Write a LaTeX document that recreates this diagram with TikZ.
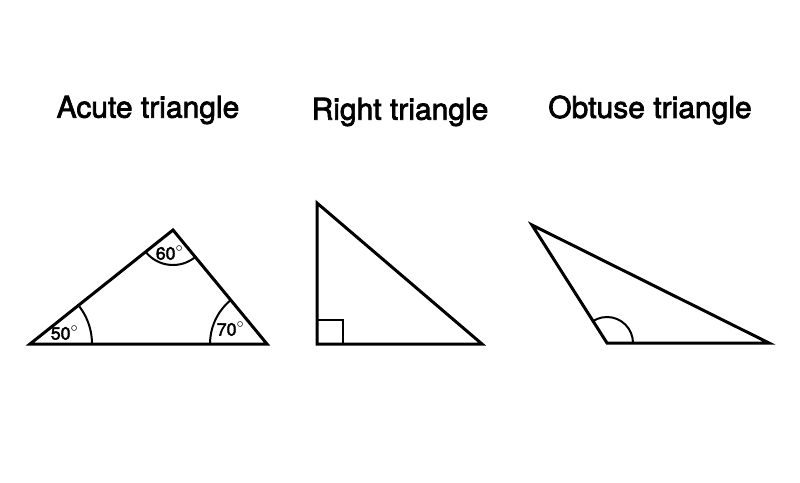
\documentclass[tikz,border=0pt]{standalone}
\usepackage{fontspec}
\setmainfont{TeX Gyre Heros}
\newfontfamily\medfont[FakeBold=2.4]{TeX Gyre Heros}
\usetikzlibrary{calc}

\begin{document}
\begin{tikzpicture}[x=0.5pt,y=-0.5pt]
        \useasboundingbox (0,0) rectangle (800,483);
        \tikzset{
          side/.style={line width=1.5pt},
          anglearcs/.style={line width=1pt},
          title/.style={font=\medfont\fontsize{15}{17}\selectfont},
          deg/.style={font=\medfont\fontsize{8.8}{10}\selectfont, inner sep=0pt}
        }
        \def\acutetri{(30,344) -- (173,230) -- (267,344) -- cycle}
        \def\righttri{(317,203) -- (317,344) -- (482,344) -- cycle}
        \def\obtusetri{(532,225) -- (607,343) -- (769,343) -- cycle}
        % titles
        \node[title] (acutetitle) at (148,110) {Acute triangle};
        \node[title] (righttitle) at (400,112) {Right triangle};
        \node[title] (obtusetitle) at (650,110) {Obtuse triangle};
        % acute triangle
        \begin{scope}
          \clip \acutetri;
          \draw [anglearcs] (30,344) circle (62);
          \draw [anglearcs] (173,230) circle (35);
          \draw [anglearcs] (267,344) circle (57);
        \end{scope}
        \draw [side] \acutetri;
        \node[deg] (a50) at (65,333) {50$^{\circ}$};
        \node[deg] (a60) at (170,253) {60$^{\circ}$};
        \node[deg] (a70) at (231,329) {70$^{\circ}$};
        % right triangle
        \draw [anglearcs] (317,320) rectangle (343,344);
        \draw [side] \righttri;
        % obtuse triangle
        \begin{scope}
          \clip \obtusetri;
          \draw [anglearcs] (607,343) circle (26);
        \end{scope}
        \draw [side] \obtusetri;
      \end{tikzpicture}
\end{document}
